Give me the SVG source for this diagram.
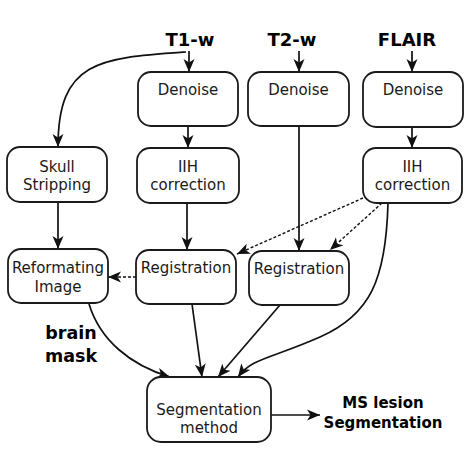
<svg xmlns="http://www.w3.org/2000/svg" width="474" height="459" viewBox="0 0 474 459">
<style>
.box{fill:#fff;stroke:#1a1a1a;stroke-width:1.8}
.t{font-family:"DejaVu Sans",sans-serif;font-size:15px;fill:#1a1a1a;text-anchor:middle}
.b{font-family:"DejaVu Sans",sans-serif;font-weight:bold;fill:#000;text-anchor:middle}
.c{fill:none;stroke:#111;stroke-width:1.7}
.d{fill:none;stroke:#111;stroke-width:1.4;stroke-dasharray:3 2}
</style>
<defs>
<marker id="ah" viewBox="-13 -6 14 12" refX="0" refY="0" markerWidth="14" markerHeight="12" markerUnits="userSpaceOnUse" orient="auto">
<path d="M0,0 L-13,-5.5 L-9.5,0 L-13,5.5 Z" fill="#111"/>
</marker>
</defs>
<rect width="474" height="459" fill="#fff"/>
<g id="labels">
<text class="b" x="190" y="46" font-size="18">T1-w</text>
<text class="b" x="292" y="46" font-size="18">T2-w</text>
<text class="b" x="407" y="46" font-size="18">FLAIR</text>
<text class="b" x="71" y="339" font-size="17.5">brain</text>
<text class="b" x="71" y="362" font-size="17.5">mask</text>
<text class="b" x="383" y="408" font-size="15">MS lesion</text>
<text class="b" x="383" y="428" font-size="15">Segmentation</text>
</g>
<g id="connectors">
<path class="c" marker-end="url(#ah)" d="M189,51 L189,72"/>
<path class="c" marker-end="url(#ah)" d="M299,51 L299,72"/>
<path class="c" marker-end="url(#ah)" d="M412,51 L412,72"/>
<path class="c" marker-end="url(#ah)" d="M188,126 L188,148"/>
<path class="c" marker-end="url(#ah)" d="M412,127 L412,148"/>
<path class="c" marker-end="url(#ah)" d="M187,203 L187,250"/>
<path class="c" marker-end="url(#ah)" d="M299,126 L299,251"/>
<path class="c" marker-end="url(#ah)" d="M58,202 L58,249"/>
<path class="c" marker-end="url(#ah)" d="M186,52 C100,58 58,60 58,147"/>
<path class="d" marker-end="url(#ah)" d="M363,198 L237,254"/>
<path class="d" marker-end="url(#ah)" d="M382,203 L330,250"/>
<path class="d" marker-end="url(#ah)" d="M136,277 L108,277"/>
<path class="c" marker-end="url(#ah)" d="M89,304 C100,340 130,365 170,377"/>
<path class="c" marker-end="url(#ah)" d="M192,304 L202,377"/>
<path class="c" marker-end="url(#ah)" d="M280,305 L218,377"/>
<path class="c" marker-end="url(#ah)" d="M388,203 C386,280 370,315 320,337 S252,358 238,377"/>
<path class="c" marker-end="url(#ah)" d="M271,415 L320,415"/>
</g>
<g id="denoise1"><rect class="box" x="138" y="72" width="100" height="54" rx="13"/><text class="t" x="188" y="95">Denoise</text></g>
<g id="denoise2"><rect class="box" x="248" y="72" width="101" height="54" rx="13"/><text class="t" x="298.5" y="95">Denoise</text></g>
<g id="denoise3"><rect class="box" x="363" y="72" width="100" height="55" rx="13"/><text class="t" x="413" y="95">Denoise</text></g>
<g id="skull"><rect class="box" x="7" y="147" width="100" height="55" rx="13"/><text class="t" x="57" y="172">Skull</text><text class="t" x="57" y="190">Stripping</text></g>
<g id="iih1"><rect class="box" x="137" y="148" width="102" height="55" rx="13"/><text class="t" x="188" y="172">IIH</text><text class="t" x="188" y="190">correction</text></g>
<g id="iih3"><rect class="box" x="363" y="148" width="99" height="55" rx="13"/><text class="t" x="412.5" y="172">IIH</text><text class="t" x="412.5" y="190">correction</text></g>
<g id="reformat"><rect class="box" x="8" y="249" width="100" height="54" rx="13"/><text class="t" x="58" y="273">Reformating</text><text class="t" x="58" y="292">Image</text></g>
<g id="reg1"><rect class="box" x="136" y="250" width="100" height="54" rx="13"/><text class="t" x="186" y="273">Registration</text></g>
<g id="reg2"><rect class="box" x="249" y="251" width="100" height="54" rx="13"/><text class="t" x="299" y="274">Registration</text></g>
<g id="seg"><rect class="box" x="147" y="377" width="124" height="65" rx="14"/><text class="t" x="209" y="415">Segmentation</text><text class="t" x="209" y="433">method</text></g>
</svg>
